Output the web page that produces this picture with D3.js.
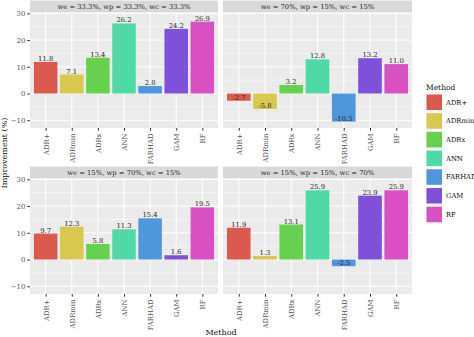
<!DOCTYPE html>
<html>
<head>
<meta charset="utf-8">
<script src="https://cdn.jsdelivr.net/npm/d3@7"></script>
<style>
  body { margin: 0; background: #fff; }
  text { font-family: "DejaVu Serif", serif; }
</style>
</head>
<body>
<div id="chart"></div>
<script>
// Data
const methods = ["ADR+", "ADRmin", "ADRx", "ANN", "FARHAD", "GAM", "RF"];
const panelTitles = [
    "we = 33.3%, wp = 33.3%, wc = 33.3%",
    "we = 70%, wp = 15%, wc = 15%",
    "we = 15%, wp = 70%, wc = 15%",
    "we = 15%, wp = 15%, wc = 70%"
];
const equalWeights = [11.8, 7.1, 13.4, 26.2, 2.8, 24.2, 26.9];
const energyWeights = [-2.7, -5.8, 3.2, 12.8, -10.5, 13.2, 11.0];
const powerWeights = [9.7, 12.3, 5.8, 11.3, 15.4, 1.6, 19.5];
const costWeights = [11.9, 1.3, 13.1, 25.9, -2.5, 23.9, 25.9];
const yTicks = [-10, 0, 10, 20, 30];
const yMinor = [-5, 5, 15, 25];
const colors = ["#DB5A50", "#D8C850", "#66D04F", "#50D9A6", "#5096DB", "#7F50D9", "#D950C2"];

const series = [equalWeights, energyWeights, powerWeights, costWeights];

const width = 474, height = 337;
const svg = d3.select("#chart").append("svg")
    .attr("width", width)
    .attr("height", height);

// panel layout
const cols = [[30, 218], [223, 412]];
const rows = [[12, 128], [178, 294]];
const stripH = 11.5;

const color = d3.scaleOrdinal().domain(methods).range(colors);

series.forEach(function(vals, i) {
    const c = i % 2, r = Math.floor(i / 2);
    const x0 = cols[c][0], x1 = cols[c][1];
    const y0 = rows[r][0], y1 = rows[r][1];

    // ggplot-like discrete scale: 0.6 expansion each side, bars 0.9 wide
    const x = d3.scalePoint().domain(methods).range([x0, x1]).padding(0.6);
    const barW = x.step() * 0.9;
    const y = d3.scaleLinear().domain([-12.9, 30.5]).range([y1, y0]);

    const g = svg.append("g");

    // strip
    g.append("rect")
        .attr("x", x0).attr("y", y0 - stripH)
        .attr("width", x1 - x0).attr("height", stripH)
        .attr("fill", "#D9D9D9");
    g.append("text")
        .attr("x", (x0 + x1) / 2).attr("y", y0 - stripH / 2)
        .attr("dy", "0.35em")
        .attr("text-anchor", "middle")
        .style("font-size", "6.8px")
        .style("fill", "#262626")
        .text(panelTitles[i]);

    // panel background
    g.append("rect")
        .attr("x", x0).attr("y", y0)
        .attr("width", x1 - x0).attr("height", y1 - y0)
        .attr("fill", "#EBEBEB");

    // grid lines
    g.selectAll(".minor").data(yMinor).join("line")
        .attr("x1", x0).attr("x2", x1)
        .attr("y1", d => y(d)).attr("y2", d => y(d))
        .attr("stroke", "#fff").attr("stroke-width", 0.5);
    g.selectAll(".major").data(yTicks).join("line")
        .attr("x1", x0).attr("x2", x1)
        .attr("y1", d => y(d)).attr("y2", d => y(d))
        .attr("stroke", "#fff").attr("stroke-width", 1);
    g.selectAll(".vgrid").data(methods).join("line")
        .attr("x1", d => x(d)).attr("x2", d => x(d))
        .attr("y1", y0).attr("y2", y1)
        .attr("stroke", "#fff").attr("stroke-width", 1);

    // bars
    g.selectAll(".bar").data(vals).join("rect")
        .attr("x", (d, j) => x(methods[j]) - barW / 2)
        .attr("y", d => y(Math.max(0, d)))
        .attr("width", barW)
        .attr("height", d => Math.abs(y(d) - y(0)))
        .attr("fill", (d, j) => color(methods[j]));

    // value labels
    g.selectAll(".lbl").data(vals).join("text")
        .attr("x", (d, j) => x(methods[j]))
        .attr("y", d => y(d) - 1)
        .attr("text-anchor", "middle")
        .style("font-size", "6.8px")
        .style("fill", "#262626")
        .text(d => d.toFixed(1));

    // x axis
    const xa = g.append("g")
        .attr("transform", `translate(0,${y1})`)
        .call(d3.axisBottom(x).tickSize(2.7).tickPadding(2));
    xa.select(".domain").remove();
    xa.selectAll("line").attr("stroke", "#333");
    xa.selectAll("text")
        .attr("transform", "rotate(-90)")
        .attr("text-anchor", "end")
        .attr("x", -5.5).attr("y", 0).attr("dy", "0.35em")
        .style("font-family", "DejaVu Serif, serif")
        .style("font-size", "6.9px")
        .style("fill", "#555");

    // y axis on left column only
    if (c === 0) {
        const ya = g.append("g")
            .attr("transform", `translate(${x0},0)`)
            .call(d3.axisLeft(y).tickValues(yTicks).tickSize(2.7).tickPadding(2));
        ya.select(".domain").remove();
        ya.selectAll("line").attr("stroke", "#333");
        ya.selectAll("text")
            .style("font-family", "DejaVu Serif, serif")
            .style("font-size", "6.9px")
            .style("fill", "#555");
    }
});

// axis titles
svg.append("text")
    .attr("x", (cols[0][0] + cols[1][1]) / 2).attr("y", 335)
    .attr("text-anchor", "middle")
    .style("font-size", "8px")
    .style("fill", "#111")
    .text("Method");

svg.append("text")
    .attr("transform", `translate(7,${(rows[0][0] + rows[1][1]) / 2}) rotate(-90)`)
    .attr("text-anchor", "middle")
    .style("font-size", "8px")
    .style("fill", "#111")
    .text("Improvement (%)");

// legend
const legend = svg.append("g").attr("transform", "translate(426,0)");
legend.append("text")
    .attr("x", 0).attr("y", 90)
    .style("font-size", "7.5px")
    .style("fill", "#111")
    .text("Method");
const keys = legend.selectAll(".key").data(methods).join("g")
    .attr("transform", (d, j) => `translate(0,${94 + j * 18.7})`);
keys.append("rect")
    .attr("width", 16.5).attr("height", 16.5)
    .attr("fill", "#F2F2F2");
keys.append("rect")
    .attr("x", 0.5).attr("y", 0.5)
    .attr("width", 15.5).attr("height", 15.5)
    .attr("fill", d => color(d));
keys.append("text")
    .attr("x", 20).attr("y", 8.25).attr("dy", "0.35em")
    .style("font-size", "6.8px")
    .style("fill", "#111")
    .text(d => d);
</script>
</body>
</html>
